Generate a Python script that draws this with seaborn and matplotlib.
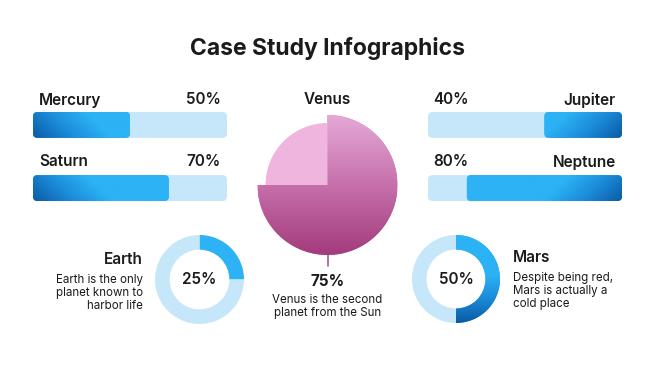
import numpy as np
import matplotlib
matplotlib.use("Agg")
import matplotlib.pyplot as plt
import seaborn as sns
from matplotlib.patches import FancyBboxPatch
from matplotlib.colors import LinearSegmentedColormap

# ---------------- data ----------------
title = "Case Study Infographics"
left_names = ["Mercury", "Saturn"]
left_values = [50, 70]
right_names = ["Jupiter", "Neptune"]
right_values = [40, 80]
full_values = [100, 100]
venus_label = "Venus"
venus_values = [75, 25]
venus_text = ["Venus is the second", "planet from the Sun"]
earth_label = "Earth"
earth_values = [25, 75]
earth_text = ["Earth is the only", "planet known to", "harbor life"]
mars_label = "Mars"
mars_values = [50, 50]
mars_text = ["Despite being red,", "Mars is actually a", "cold place"]

# ---------------- style ----------------
sns.set_theme(style="white")
FONT = ["Inter", "DejaVu Sans"]
plt.rcParams["font.family"] = FONT
INK = "#1b1b1b"
LIGHT = "#c6e7fa"
BRIGHT = "#2cb2f5"
DARK = "#0b5aa3"
blue_cmap = LinearSegmentedColormap.from_list("b", [DARK, "#1b8ad8", BRIGHT])
pink_cmap = LinearSegmentedColormap.from_list("p", ["#a33b7c", "#c670ab", "#e4a9d6"])

W, H = 655, 368
fig = plt.figure(figsize=(W / 100, H / 100), dpi=100)
fig.patch.set_facecolor("white")


def px_axes(x0, y0, x1, y1):
    return fig.add_axes([x0 / W, 1 - y1 / H, (x1 - x0) / W, (y1 - y0) / H])


def bar_panel(x0, x1, y0, y1, names, values, invert):
    ax = px_axes(x0, y0, x1, y1)
    bw = 0.41
    sns.barplot(x=full_values, y=names, orient="h", color=LIGHT, width=bw,
                errorbar=None, ax=ax)
    sns.barplot(x=values, y=names, orient="h", color=BRIGHT, width=bw,
                errorbar=None, ax=ax)
    ax.set_xlim((100, 0) if invert else (0, 100))
    ax.set_ylim(1 + bw / 2, -bw / 2)
    xs = (x1 - x0) / 100.0            # px per x unit
    ys = (y1 - y0) / (1 + bw)         # px per y unit
    r_px = 4.5
    n = len(names)
    for i, p in enumerate(list(ax.patches)):
        x, y, w, h = p.get_x(), p.get_y(), p.get_width(), p.get_height()
        p.set_visible(False)
        fb = FancyBboxPatch((x, y), w, h,
                            boxstyle=f"round,pad=0,rounding_size={r_px / xs}",
                            mutation_aspect=xs / ys, linewidth=0,
                            facecolor=LIGHT if i < n else BRIGHT)
        ax.add_patch(fb)
        if i >= n:
            wpx = max(int(w * xs), 2)
            hpx = max(int(h * ys), 2)
            cx = np.arange(wpx)[None, :]
            cy = np.arange(hpx)[:, None]
            d = cx + (hpx - cy) * 1.1
            t = np.clip(d / 80.0, 0, 1)
            img = ax.imshow(blue_cmap(t), extent=(x, x + w, y + h, y),
                            origin="upper", aspect="auto", zorder=3,
                            interpolation="bilinear")
            img.set_clip_path(fb)
    ax.set_xlim((100, 0) if invert else (0, 100))
    ax.set_ylim(1 + bw / 2, -bw / 2)
    ax.axis("off")
    return ax


bar_panel(33, 227, 112, 201, left_names, left_values, invert=False)
bar_panel(428, 622, 112, 201, right_names, right_values, invert=True)

# ---------------- Venus pie ----------------
axp = px_axes(257.5, 115, 397.5, 255)
wedges, _ = axp.pie(venus_values, startangle=90, counterclock=False,
                    colors=["#c670ab", "#efb5de"], radius=1,
                    wedgeprops=dict(linewidth=0))
wedges[1].set_radius(62 / 70)
gy = np.linspace(1, 0, 200)[:, None] * np.ones((1, 4))
img = axp.imshow(pink_cmap(gy), extent=(-1, 1, -1, 1), origin="upper",
                 aspect="auto", zorder=3, interpolation="bilinear")
img.set_clip_path(wedges[0])
axp.plot([0, 0], [-1.0, -1.15], color="#a8457f", lw=1.1, clip_on=False)
axp.set_xlim(-1, 1)
axp.set_ylim(-1, 1)
axp.axis("off")

# ---------------- Earth donut ----------------
axe = px_axes(155, 235, 244, 324)
axe.pie(earth_values, startangle=90, counterclock=False,
        colors=[BRIGHT, LIGHT], radius=1,
        wedgeprops=dict(width=0.33, linewidth=0))
axe.set_xlim(-1, 1)
axe.set_ylim(-1, 1)
axe.axis("off")

# ---------------- Mars donut ----------------
axm = px_axes(412, 235, 500, 323)
mw, _ = axm.pie(mars_values, startangle=90, counterclock=False,
                colors=[BRIGHT, LIGHT], radius=1,
                wedgeprops=dict(width=0.33, linewidth=0))
yy = np.linspace(1, -1, 200)[:, None] * np.ones((1, 4))
tt = np.clip((yy + 1.0) / 1.1, 0, 1)
img = axm.imshow(blue_cmap(tt), extent=(-1, 1, -1, 1), origin="upper",
                 aspect="auto", zorder=3, interpolation="bilinear")
img.set_clip_path(mw[0])
axm.set_xlim(-1, 1)
axm.set_ylim(-1, 1)
axm.axis("off")

# ---------------- text overlay ----------------
ov = fig.add_axes([0, 0, 1, 1])
ov.set_xlim(0, W)
ov.set_ylim(H, 0)
ov.axis("off")
ov.patch.set_alpha(0)

def T(x, y, s, size, weight="normal", ha="left"):
    ov.text(x, y, s, fontsize=size, fontweight=weight, ha=ha, va="center",
            color=INK, family=FONT)

T(327.5, 49, title, 16.5, "bold", "center")
T(39, 100, left_names[0], 11, "semibold")
T(221, 100, f"{left_values[0]}%", 11, "semibold", "right")
T(39, 162, left_names[1], 11, "semibold")
T(221, 162, f"{left_values[1]}%", 11, "semibold", "right")
T(433, 100, f"{right_values[0]}%", 11, "semibold")
T(616, 100, right_names[0], 11, "semibold", "right")
T(433, 162, f"{right_values[1]}%", 11, "semibold")
T(616, 162, right_names[1], 11, "semibold", "right")
T(327.5, 100, venus_label, 11, "semibold", "center")
T(327.5, 281, f"{venus_values[0]}%", 11, "bold", "center")
for i, s in enumerate(venus_text):
    T(327.5, 300 + 13 * i, s, 8.3, "normal", "center")
T(143, 260, earth_label, 11, "semibold", "right")
for i, s in enumerate(earth_text):
    T(143, 280 + 13 * i, s, 8.3, "normal", "right")
T(199.5, 280, f"{earth_values[0]}%", 11, "semibold", "center")
T(456, 279, f"{mars_values[0]}%", 11, "semibold", "center")
T(513, 258, mars_label, 11, "semibold")
for i, s in enumerate(mars_text):
    T(513, 278 + 13 * i, s, 8.3, "normal")

fig.savefig("out.png", dpi=100, facecolor="white")
